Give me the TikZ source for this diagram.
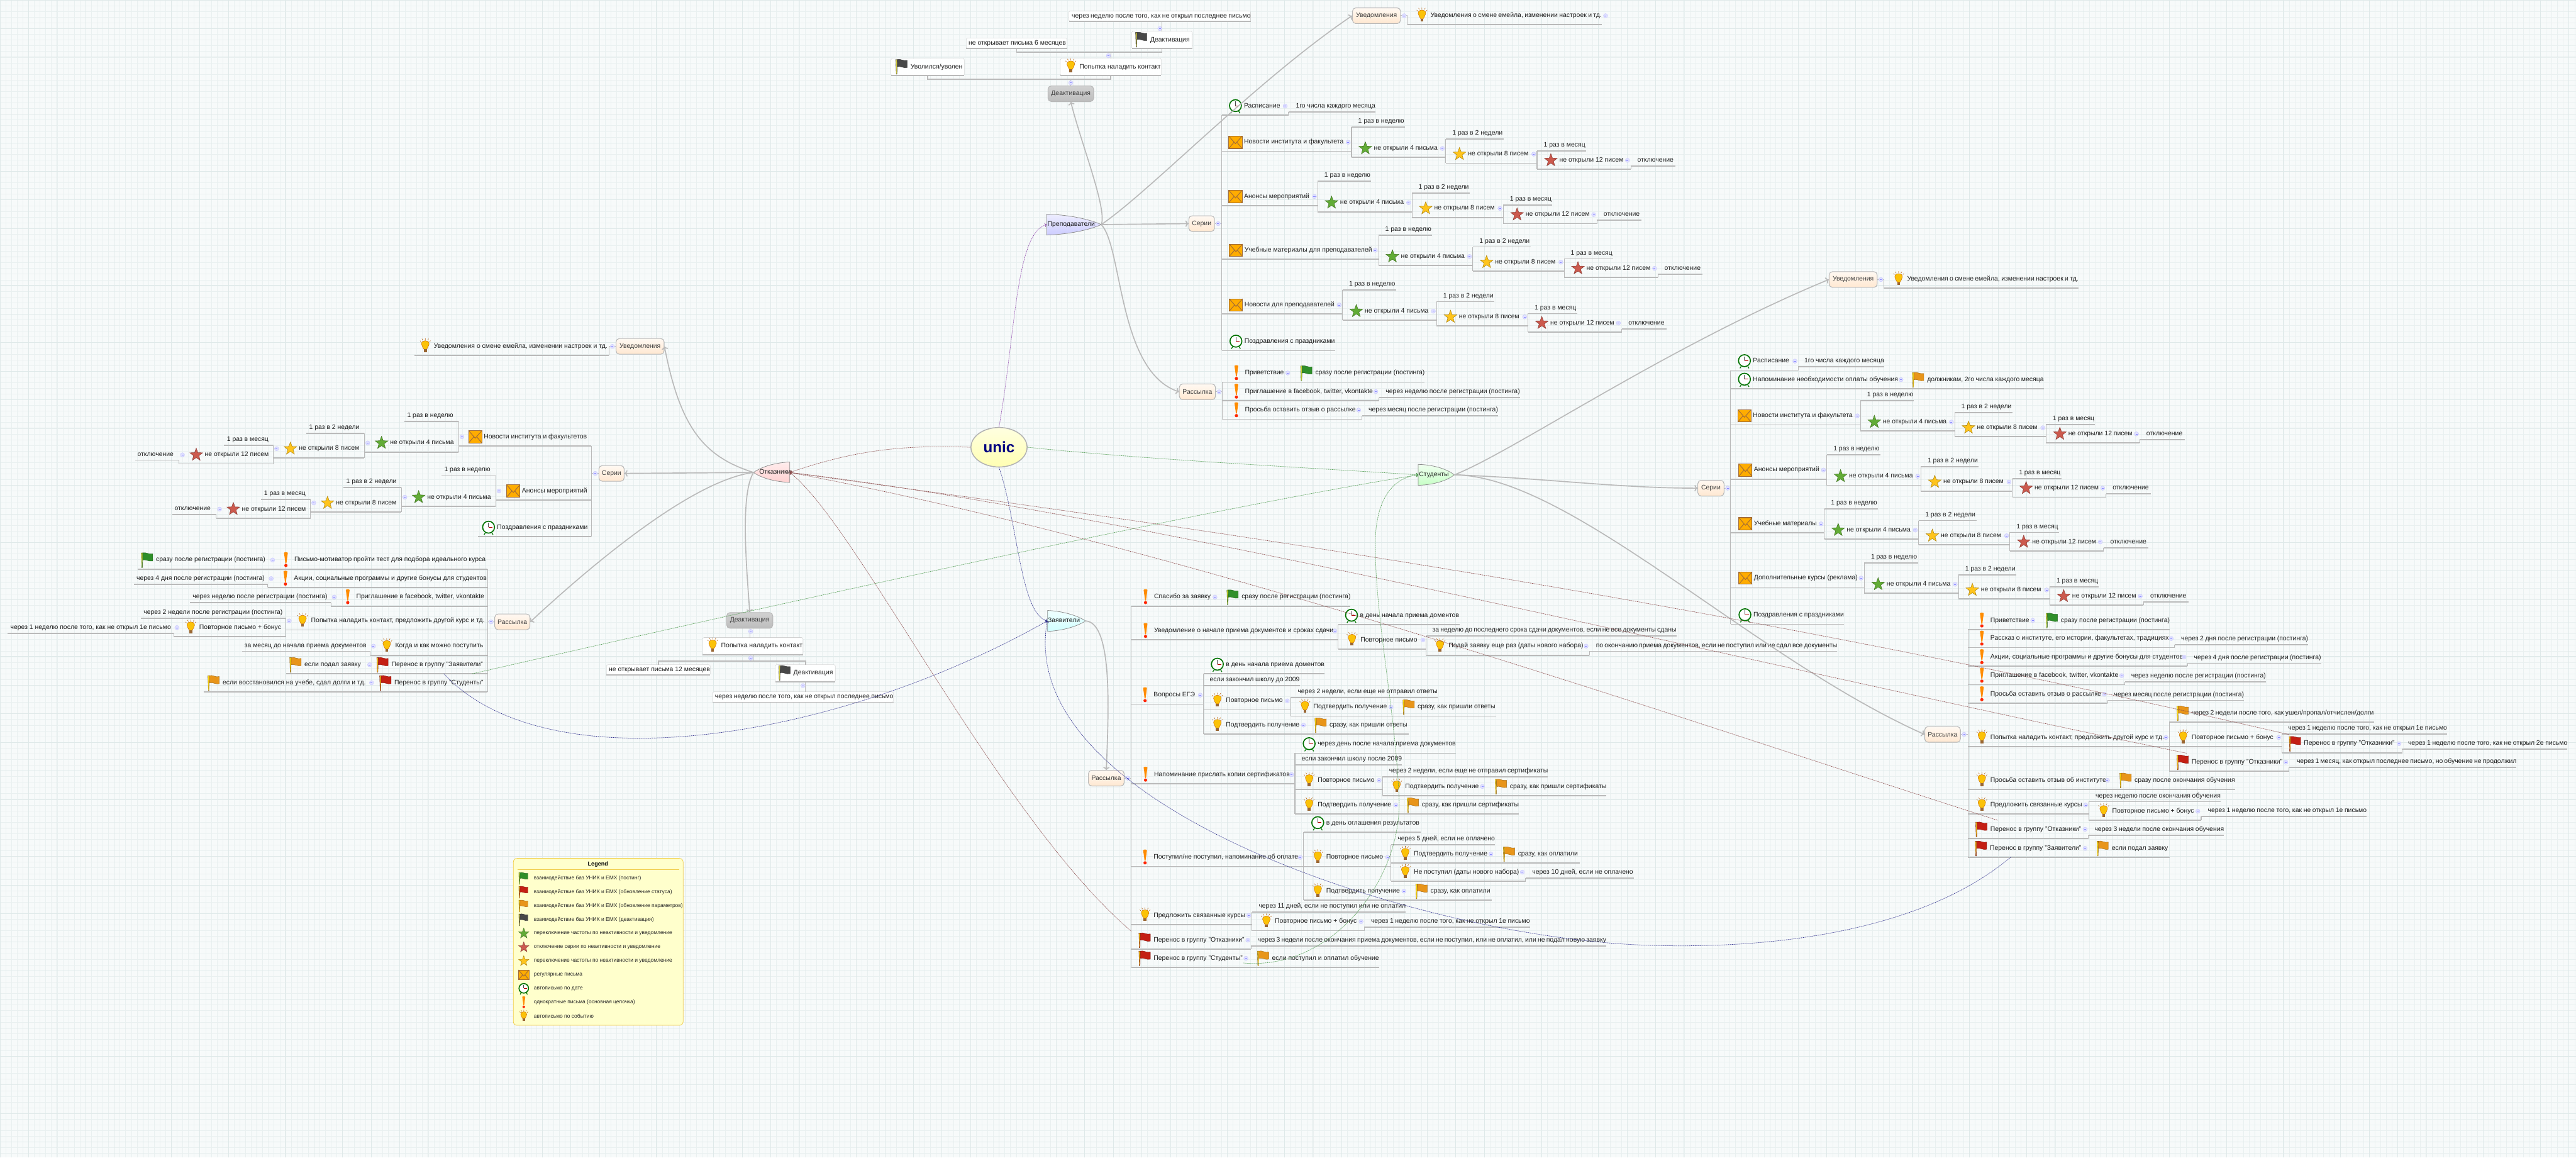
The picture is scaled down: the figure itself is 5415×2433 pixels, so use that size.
\documentclass[tikz,border=0pt]{standalone}
\usepackage{fontspec}
\setmainfont{Liberation Sans}
\usetikzlibrary{arrows.meta}
\usetikzlibrary{calc}
\usetikzlibrary{shapes.geometric}

\definecolor{bgc}{HTML}{F7FAFA}
\definecolor{gridc}{HTML}{E9F0F0}
\definecolor{gridm}{HTML}{DFE9E9}
\definecolor{linec}{HTML}{BABABA}
\definecolor{flagG}{HTML}{2F8F2A}
\definecolor{flagR}{HTML}{C41F14}
\definecolor{flagO}{HTML}{E8951A}
\definecolor{flagK}{HTML}{484848}
\definecolor{starG}{HTML}{62AC36}
\definecolor{starY}{HTML}{FFC41C}
\definecolor{starR}{HTML}{CC5A4E}
\definecolor{relO}{HTML}{8A4A4A}
\definecolor{relZ}{HTML}{2F2F8C}
\definecolor{relS}{HTML}{4E9A4E}
\definecolor{relP}{HTML}{8A40A8}
\definecolor{legbg}{HTML}{FFFFCC}
\definecolor{legbd}{HTML}{F0CC48}

\newcommand{\starshape}{(0,-14) -- (3.4,-4.7) -- (13.3,-4.3) -- (5.5,1.8) -- (8.2,11.3) -- (0,5.8) -- (-8.2,11.3) -- (-5.5,1.8) -- (-13.3,-4.3) -- (-3.4,-4.7) -- cycle}

\tikzset{
    ul/.style={draw=linec,line width=2.4pt},
    br/.style={draw=linec,line width=1.4pt},
    arm/.style={draw=linec,line width=2.2pt,->},
    rel/.style={line width=1pt,dash pattern=on 1pt off 1pt,->},
    lft/.style 2 args={inner sep=0pt,outer sep=0pt,text height=10pt,text depth=3pt,text=black!88,
        execute at begin node={\hbox to #1pt\bgroup\hspace*{#2pt}},
        execute at end node={\hfil\egroup}},
    tp/.style 2 args={lft={#1}{#2},anchor=south west,minimum height=24pt,
        append after command={\pgfextra{\xdef\tplast{\tikzlastnode}} (\tplast.south west) edge[ul] (\tplast.south east)}},
    tpi/.style n args={3}{tp={#1}{#2},minimum height=38pt,
        append after command={pic at ([xshift=#2pt-18pt,yshift=19pt]\tplast.south west) {#3}}},
    kid/.style={append after command={pic at ([xshift=-7pt,yshift=19pt]\tplast.south east) {mk}}},
    lkid/.style={append after command={pic at ([xshift=7pt,yshift=19pt]\tplast.south west) {mk}}},
    bx/.style={draw=black!25,fill=white!90!bgc,rounded corners=3pt},
    cap/.style={draw=black!28,line width=1.4pt,rounded corners=7pt,top color=orange!5,bottom color=orange!18,
        minimum width=#1pt,minimum height=33pt,inner sep=0pt,text=black!75},
    capd/.style={cap=#1,top color=black!18,bottom color=black!26},
    lbl/.style 2 args={lft={#1}{#2},minimum height=44pt},
    lobe/.style={draw=black!45,line width=1pt},
    lg/.style={anchor=west,inner sep=0pt,font=\fontsize{11.2}{13}\selectfont,text=black!85,
        append after command={pic[scale=0.8] at ([xshift=-21pt]\tikzlastnode.west) {#1}}},
    pics/mk/.style={code={
        \draw[draw=blue!22,fill=blue!12,line width=0.6pt] (0,0) circle (4.5);
        \draw[draw=blue!45,line width=0.6pt] (-2,0) -- (2,0);}},
    pics/flag/.style={code={
        \draw[draw=#1!70!black,fill=#1,line width=0.6pt] (-10,-15) .. controls (-3,-17) and (3,-11) .. (11,-13) -- (11,2) .. controls (3,4) and (-3,-2) .. (-10,0) -- cycle;
        \draw[draw=#1!60!black,fill=yellow!70!#1,line width=0.5pt] (-13,-15) -- (-10,-15) -- (-10.5,16) -- (-12,16) -- cycle;}},
    pics/star/.style={code={
        \draw[draw=#1!70!black,fill=#1,line width=0.8pt] \starshape;}},
    pics/bulb/.style={code={
        \draw[draw=orange!80!black,fill=yellow!55!orange,line width=0.6pt] (-3,6) .. controls (-4,2) and (-8,0) .. (-8,-5) .. controls (-8,-10) and (-4,-12) .. (0,-12) .. controls (4,-12) and (8,-10) .. (8,-5) .. controls (8,0) and (4,2) .. (3,6) -- cycle;
        \fill[brown!80!black] (-3,6) rectangle (3,12);
        \draw[orange!70!black,line width=0.7pt] (0,-13.5) -- (0,-17) (-5,-13) -- (-7,-16) (5,-13) -- (7,-16) (-9,-10) -- (-11,-12) (9,-10) -- (11,-12);}},
    pics/excl/.style={code={
        \fill[orange!90!yellow] (-4,-15) .. controls (-3,-17) and (3,-17) .. (4,-15) -- (1,7) -- (-1,7) -- cycle;
        \fill[red!70!orange] (0,11.5) circle (3.4);}},
    pics/clock/.style={code={
        \draw[draw=green!45!black,line width=2.2pt,fill=white] (0,-1) circle (12.5);
        \draw[draw=green!45!black,line width=1.6pt] (-7,11) -- (-9.5,15) (7,11) -- (9.5,15);
        \draw[red!70!black,line width=1pt] (0,-1) -- (8,-1);
        \draw[black!70,line width=1pt] (0,-1) -- (0,-10);}},
    pics/mail/.style={code={
        \draw[draw=brown!85!black,fill=orange!65!yellow,line width=1.4pt] (-14,-13) rectangle (14,13);
        \draw[draw=brown!85!black,line width=1.3pt] (-14,-13) -- (0,3) -- (14,-13) (-14,13) -- (-3,0) (14,13) -- (3,0);}},
}

\begin{document}
\begin{tikzpicture}[x=1pt,y=-1pt,font=\fontsize{13.8}{16}\selectfont,>=To]
    \path[use as bounding box] (0,0) rectangle (5415,2433);
    \fill[bgc] (0,0) rectangle (5415,2433);
    \draw[gridc,line width=0.6pt] (0,0) grid[xstep=12pt,ystep=12pt] (5415,2433);
    \draw[gridm,line width=1pt] (0,0) grid[xstep=60pt,ystep=60pt] (5415,2433);

    % centre and the four groups
    \node[draw=black!30,line width=2pt,ellipse,top color=yellow!12,bottom color=yellow!30,minimum width=118pt,minimum height=83pt,inner sep=0pt,font=\fontsize{32}{36}\selectfont\bfseries,text=blue!50!black] (UN) at (2100,940) {unic};
    \draw[lobe,top color=blue!7,bottom color=blue!20] (2200,450) .. controls (2260,452) and (2300,465) .. (2315,472) .. controls (2300,479) and (2260,492) .. (2200,494) -- cycle;
    \node[lbl={115}{2}] (PL) at (2257.5,472) {Преподаватели};
    \draw[lobe,top color=red!7,bottom color=red!18] (1660,971) .. controls (1620,973) and (1595,985) .. (1584,993) .. controls (1595,1001) and (1620,1012) .. (1660,1014) -- cycle;
    \node[lbl={76}{12}] (OT) at (1622,993) {Отказники};
    \draw[lobe,top color=cyan!6,bottom color=cyan!18] (2202,1283) .. controls (2242,1285) and (2270,1297) .. (2282,1305) .. controls (2270,1313) and (2242,1325) .. (2202,1327) -- cycle;
    \node[lbl={81}{1}] (ZA) at (2242,1305) {Заявители};
    \draw[lobe,top color=green!6,bottom color=green!22] (2981,976) .. controls (3018,977) and (3045,988) .. (3057,998) .. controls (3045,1008) and (3018,1019) .. (2981,1020) -- cycle;
    \node[lbl={76}{2}] (ST) at (3019,998) {Студенты};

    % Prepodavateli, deactivation
    \node[capd=96] (DP) at (2251,197) {Деактивация};
    \node[tpi={154}{41}{flag=flagK},bx,minimum height=36pt] (DP1) at (1873,159) {Уволился/уволен};
    \node[tpi={212}{40}{bulb},bx,minimum height=36pt] (DP2) at (2229,159) {Попытка наладить контакт};
    \node[tp={212}{5},bx,minimum height=22pt] (DP3) at (2031,102) {не открывает письма 6 месяцев};
    \node[tpi={127}{39}{flag=flagK},bx,minimum height=36pt] (DP4) at (2379,102) {Деактивация};
    \node[tp={382}{6},bx,minimum height=22pt] (DP5) at (2247,45) {через неделю после того, как не открыл последнее письмо};
    \coordinate (DP6) at (2251,167);
    \coordinate (DP7) at (2335,110);
    \draw[ul] (DP1.south) |- (DP6) -| (DP2.south);
    \draw[br] (DP.north) -- (DP6);
    \draw[ul] (DP3.south) |- (DP7) -| (DP4.south);
    \draw[br] (DP2.north) -- (DP7);
    \draw[br] (DP4.north) -- (DP4.north |- DP5.south);
    \pic at (2251,174) {mk};
    \pic at (2330,117) {mk};
    \pic at (2438,60) {mk};

    % Prepodavateli, notices
    \node[cap=101] (PU) at (2893.5,33) {Уведомления};
    \node[tpi={409}{49}{bulb}] (PU1) at (2958,52) {Уведомления о смене емейла, изменении настроек и тд.};
    \draw[br] (PU.east) -| (PU1.south west);
    \pic at ([xshift=7pt]PU.east) {mk};
    \pic at ([xshift=8pt,yshift=19pt]PU1.south east) {mk};

    % Prepodavateli, series
    \node[cap=54] (PS) at (2526,470) {Серии};
    \node[tpi={140.5}{47}{clock},kid] (PS1) at (2568,242) {Расписание};
    \node[tp={182.5}{15.5}] (PS2) at (2708.5,235) {1го числа каждого месяца};
    \node[tpi={273}{47}{mail},kid] (PS3) at (2568,318) {Новости института и факультета};
    \node[tpi={202}{47}{mail},kid] (PS4) at (2568,432) {Анонсы мероприятий};
    \node[tpi={330}{48}{mail},kid] (PS5) at (2568,545) {Учебные материалы для преподавателей};
    \node[tpi={254}{48}{mail},kid] (PS6) at (2568,660) {Новости для преподавателей};
    \node[tpi={238}{48}{clock}] (PS7) at (2568,737) {Поздравления с праздниками};
    \draw[br] (PS1.south west) -- (PS7.south west);
    \draw[br] (PS1.south east) -- (PS2.south west);
    \draw[br] (PS.east) -- (PS.east -| PS1.south west);
    \pic at ([xshift=7pt]PS.east) {mk};

    % Prepodavateli, mailing
    \node[cap=76] (PR) at (2517,823.5) {Рассылка};
    \node[tpi={145}{48}{excl},kid] (PR1) at (2569,803) {Приветствие};
    \node[tpi={281}{51}{flag=flagG}] (PR2) at (2714,803) {сразу после регистрации (постинга)};
    \node[tpi={330}{48}{excl},kid] (PR3) at (2569,842) {Приглашение в facebook, twitter, vkontakte};
    \node[tp={296}{14}] (PR4) at (2899,835) {через неделю после регистрации (постинга)};
    \node[tpi={294}{48}{excl},kid] (PR5) at (2569,881) {Просьба оставить отзыв о рассылке};
    \node[tp={286}{14}] (PR6) at (2863,874) {через месяц после регистрации (постинга)};
    \draw[br] (PR1.south west) -- (PR5.south west);
    \draw[br] (PR3.south east) -- (PR4.south west);
    \draw[br] (PR5.south east) -- (PR6.south west);
    \draw[br] (PR.east) -- (PR.east -| PR1.south west);
    \pic at ([xshift=7pt]PR.east) {mk};

    % Studenty, notices and series
    \node[cap=101] (SU) at (3895.5,587.5) {Уведомления};
    \node[tpi={409}{49}{bulb}] (SU1) at (3960,606) {Уведомления о смене емейла, изменении настроек и тд.};
    \draw[br] (SU.east) -| (SU1.south west);
    \pic at ([xshift=7pt]SU.east) {mk};
    \node[cap=55] (SS) at (3596.5,1026) {Серии};
    \node[tpi={142}{47}{clock},kid] (SS1) at (3638,778) {Расписание};
    \node[tp={181}{13}] (SS2) at (3780,770.5) {1го числа каждого месяца};
    \node[tpi={365}{47}{clock},kid] (SS3) at (3638,817) {Напоминание необходимости оплаты обучения};
    \node[tpi={293}{48}{flag=flagO}] (SS4) at (4003,817) {должникам, 2го числа каждого месяца};
    \node[tpi={273}{47}{mail},kid] (SS5) at (3638,893) {Новости института и факультета};
    \node[tpi={202}{49}{mail},kid] (SS6) at (3638,1007) {Анонсы мероприятий};
    \node[tpi={197}{49}{mail},kid] (SS7) at (3638,1120) {Учебные материалы};
    \node[tpi={281}{49}{mail},kid] (SS8) at (3638,1234) {Дополнительные курсы (реклама)};
    \node[tpi={238}{48}{clock}] (SS9) at (3638,1312) {Поздравления с праздниками};
    \draw[br] (SS1.south west) -- (SS9.south west);
    \draw[br] (SS1.south east) -- (SS2.south west);
    \draw[br] (SS.east) -- (SS.east -| SS1.south west);
    \pic at ([xshift=7pt]SS.east) {mk};

    % Studenty, mailing
    \node[cap=75] (SR) at (4083.5,1543.5) {Рассылка};
    \node[tpi={143}{47}{excl},kid] (SR1) at (4137,1323) {Приветствие};
    \node[tpi={281}{52}{flag=flagG}] (SR2) at (4280,1323) {сразу после регистрации (постинга)};
    \node[tpi={434}{47}{excl},kid] (SR3) at (4137,1361) {Рассказ о институте, его истории, факультетах, традициях};
    \node[tp={281}{14}] (SR4) at (4571,1355) {через 2 дня после регистрации (постинга)};
    \node[tpi={461}{47}{excl},kid] (SR5) at (4137,1400) {Акции, социальные программы и другие бонусы для студентов};
    \node[tp={281}{14}] (SR6) at (4598,1394) {через 4 дня после регистрации (постинга)};
    \node[tpi={330}{47}{excl},kid] (SR7) at (4137,1439) {Приглашение в facebook, twitter, vkontakte};
    \node[tp={296}{13}] (SR8) at (4467,1433) {через неделю после регистрации (постинга)};
    \node[tpi={293.5}{47}{excl},kid] (SR9) at (4137,1478) {Просьба оставить отзыв о рассылке};
    \node[tp={286.5}{13.5}] (SR10) at (4430.5,1472) {через месяц после регистрации (постинга)};
    \node[tpi={423}{47}{bulb},kid] (SR11) at (4137,1569) {Попытка наладить контакт, предложить другой курс и тд.};
    \node[tpi={430}{47}{flag=flagO}] (SR12) at (4560,1518) {через 2 недели после того, как ушел/пропал/отчислен/долги};
    \node[tpi={237}{47}{bulb},kid] (SR13) at (4560,1569) {Повторное письмо + бонус};
    \node[tp={347}{13}] (SR14) at (4797,1543) {через 1 неделю после того, как не открыл 1е письмо};
    \node[tpi={253}{46}{flag=flagR},kid] (SR15) at (4797,1582) {Перенос в группу "Отказники"};
    \node[tp={347}{12}] (SR16) at (5050,1575) {через 1 неделю после того, как не открыл 2е письмо};
    \node[tpi={252}{47}{flag=flagR},kid] (SR17) at (4560,1621) {Перенос в группу "Отказники"};
    \node[tp={478}{16}] (SR18) at (4812,1613) {через 1 месяц, как открыл последнее письмо, но обучение не продолжил};
    \node[tpi={300}{47}{bulb},kid] (SR19) at (4137,1659) {Просьба оставить отзыв об институте};
    \node[tpi={261}{50}{flag=flagO}] (SR20) at (4437,1659) {сразу после окончания обучения};
    \node[tpi={254}{47}{bulb},kid] (SR21) at (4137,1711) {Предложить связанные курсы};
    \node[tp={277}{14}] (SR22) at (4391,1685) {через неделю после окончания обучения};
    \node[tpi={236}{49}{bulb},kid] (SR23) at (4391,1724) {Повторное письмо + бонус};
    \node[tp={348}{14}] (SR24) at (4627,1716) {через 1 неделю после того, как не открыл 1е письмо};
    \node[tpi={253}{47}{flag=flagR},kid] (SR25) at (4137,1762) {Перенос в группу "Отказники"};
    \node[tp={285}{13}] (SR26) at (4390,1756) {через 3 недели после окончания обучения};
    \node[tpi={253}{46}{flag=flagR},kid] (SR27) at (4137,1802) {Перенос в группу "Заявители"};
    \node[tpi={171}{49}{flag=flagO}] (SR28) at (4390,1802) {если подал заявку};
    \draw[br] (SR1.south west) -- (SR27.south west);
    \draw[br] (SR3.south east) -- (SR4.south west);
    \draw[br] (SR5.south east) -- (SR6.south west);
    \draw[br] (SR7.south east) -- (SR8.south west);
    \draw[br] (SR9.south east) -- (SR10.south west);
    \draw[br] (SR12.south west) -- (SR17.south west);
    \draw[br] (SR14.south west) -- (SR15.south west);
    \draw[br] (SR15.south east) -- (SR16.south west);
    \draw[br] (SR17.south east) -- (SR18.south west);
    \draw[br] (SR22.south west) -- (SR23.south west);
    \draw[br] (SR23.south east) -- (SR24.south west);
    \draw[br] (SR25.south east) -- (SR26.south west);
    \draw[br] (SR.east) -- (SR.east -| SR1.south west);
    \pic at ([xshift=7pt]SR.east) {mk};

    % frequency chains, going right
    \foreach \k/\xa/\ya in {PA/2841/318,PB/2770/432,PC/2898/545,PD/2822/660,SA/3911/893,SB/3840/1007,SC/3835/1120,SD/3919/1234} {
        \node[tp={112.5}{14}] (\k1) at (\xa,\ya-51) {1 раз в неделю};
        \node[tpi={198}{47}{star=starG},kid] (\k2) at (\xa,\ya+13) {не открыли 4 письма};
        \node[tp={121.5}{14}] (\k3) at (\xa+198,\ya-26) {1 раз в 2 недели};
        \node[tpi={192}{47}{star=starY},kid] (\k4) at (\xa+198,\ya+25) {не открыли 8 писем};
        \node[tp={103}{14}] (\k5) at (\xa+390,\ya-1) {1 раз в месяц};
        \node[tpi={197}{47}{star=starR},kid] (\k6) at (\xa+390,\ya+38) {не открыли 12 писем};
        \node[tp={94}{14}] (\k7) at (\xa+587,\ya+31) {отключение};
        \draw[br] (\k1.south west) -- (\k2.south west);
        \draw[br] (\k3.south west) -- (\k4.south west);
        \draw[br] (\k5.south west) -- (\k6.south west);
        \draw[br] (\k6.south east) -- (\k7.south west);
    }

    % frequency chains, going left
    \foreach \k/\xa/\ya in {OA/964/937,OB/1042/1051} {
        \node[tp={114}{6}] (\k1) at (\xa-114,\ya-51) {1 раз в неделю};
        \node[tpi={198}{54}{star=starG},lkid] (\k2) at (\xa-198,\ya+13) {не открыли 4 письма};
        \node[tp={122}{6}] (\k3) at (\xa-320,\ya-26) {1 раз в 2 недели};
        \node[tpi={191.5}{54}{star=starY},lkid] (\k4) at (\xa-389.5,\ya+25) {не открыли 8 писем};
        \node[tp={103.5}{6}] (\k5) at (\xa-493,\ya-1) {1 раз в месяц};
        \node[tpi={198}{54}{star=starR},lkid] (\k6) at (\xa-587.5,\ya+38) {не открыли 12 писем};
        \node[tp={92.5}{5}] (\k7) at (\xa-680,\ya+30) {отключение};
        \draw[br] (\k1.south east) -- (\k2.south east);
        \draw[br] (\k3.south east) -- (\k4.south east);
        \draw[br] (\k5.south east) -- (\k6.south east);
        \draw[br] (\k6.south west) -- (\k7.south east);
    }

    % Zayaviteli, mailing
    \node[cap=75] (ZR) at (2325.5,1635.5) {Рассылка};
    \node[tpi={183}{48}{excl},kid] (Z1) at (2378,1274) {Спасибо за заявку};
    \node[tpi={278}{49}{flag=flagG}] (Z2) at (2561,1274) {сразу после регистрации (постинга)};
    \node[tpi={435}{48}{excl},kid] (Z3) at (2378,1345) {Уведомление о начале приема документов и сроках сдачи};
    \node[tpi={255}{46}{clock}] (Z4) at (2813,1313) {в день начала приема доментов};
    \node[tpi={185}{47}{bulb},kid] (Z5) at (2813,1364) {Повторное письмо};
    \node[tp={526}{13}] (Z6) at (2998,1337) {за неделю до последнего срока сдачи документов, если не все документы сданы};
    \node[tpi={343}{47}{bulb},kid] (Z7) at (2998,1377) {Подай заявку еще раз (даты нового набора)};
    \node[tp={521}{14}] (Z8) at (3341,1369) {по окончанию приема документов, если не поступил или не сдал все документы};
    \node[tpi={152}{47}{excl},kid] (Z9) at (2378,1480) {Вопросы ЕГЭ};
    \node[tpi={254}{47}{clock}] (Z10) at (2530,1416) {в день начала приема доментов};
    \node[tp={202}{13}] (Z11) at (2530,1441) {если закончил школу до 2009};
    \node[tpi={183}{47}{bulb},kid] (Z12) at (2530,1492) {Повторное письмо};
    \node[tp={309}{15}] (Z13) at (2713,1466) {через 2 недели, если еще не отправил ответы};
    \node[tpi={218}{48}{bulb},kid] (Z14) at (2713,1505) {Подтвердить получение};
    \node[tpi={214}{49}{flag=flagO}] (Z15) at (2931,1505) {сразу, как пришли ответы};
    \node[tpi={217}{47}{bulb},kid] (Z16) at (2530,1543) {Подтвердить получение};
    \node[tpi={214}{48}{flag=flagO}] (Z17) at (2747,1543) {сразу, как пришли ответы};
    \node[tpi={344}{48}{excl},kid] (Z18) at (2378,1647) {Напоминание прислать копии сертификатов};
    \node[tpi={338}{48}{clock}] (Z19) at (2722,1583) {через день после начала приема документов};
    \node[tp={225}{14}] (Z20) at (2722,1608) {если закончил школу после 2009};
    \node[tpi={184}{48}{bulb},kid] (Z21) at (2722,1659) {Повторное письмо};
    \node[tp={348}{14}] (Z22) at (2906,1633) {через 2 недели, если еще не отправил сертификаты};
    \node[tpi={217}{48}{bulb},kid] (Z23) at (2906,1672) {Подтвердить получение};
    \node[tpi={254}{51}{flag=flagO}] (Z24) at (3123,1672) {сразу, как пришли сертификаты};
    \node[tpi={219}{48}{bulb},kid] (Z25) at (2722,1711) {Подтвердить получение};
    \node[tpi={252}{48}{flag=flagO}] (Z26) at (2941,1711) {сразу, как пришли сертификаты};
    \node[tpi={362}{47}{excl},kid] (Z27) at (2378,1821) {Поступил/не поступил, напоминание об оплате};
    \node[tpi={246}{48}{clock}] (Z28) at (2740,1749) {в день оглашения результатов};
    \node[tpi={184}{48}{bulb},kid] (Z29) at (2740,1821) {Повторное письмо};
    \node[tp={219}{14}] (Z30) at (2924,1775) {через 5 дней, если не оплачено};
    \node[tpi={217}{48}{bulb},kid] (Z31) at (2924,1814) {Подтвердить получение};
    \node[tpi={180}{50}{flag=flagO}] (Z32) at (3141,1814) {сразу, как оплатили};
    \node[tpi={283}{48}{bulb},kid] (Z33) at (2924,1852) {Не поступил (даты нового набора)};
    \node[tp={227}{14}] (Z34) at (3207,1846) {через 10 дней, если не оплачено};
    \node[tpi={218}{48}{bulb},kid] (Z35) at (2740,1892) {Подтвердить получение};
    \node[tpi={178}{49}{flag=flagO}] (Z36) at (2958,1892) {сразу, как оплатили};
    \node[tpi={254}{47}{bulb},kid] (Z37) at (2378,1943) {Предложить связанные курсы};
    \node[tp={323}{14}] (Z38) at (2632,1917) {через 11 дней, если не поступил или не оплатил};
    \node[tpi={236}{48}{bulb},kid] (Z39) at (2632,1956) {Повторное письмо + бонус};
    \node[tp={348}{14}] (Z40) at (2868,1949) {через 1 неделю после того, как не открыл 1е письмо};
    \node[tpi={252}{47}{flag=flagR},kid] (Z41) at (2378,1995) {Перенос в группу "Отказники"};
    \node[tp={746.5}{14}] (Z42) at (2630,1988) {через 3 недели после окончания приема документов, если не поступил, или не оплатил, или не подал новую заявку};
    \node[tpi={248}{47}{flag=flagR},kid] (Z43) at (2378,2033) {Перенос в группу "Студенты"};
    \node[tpi={273}{48}{flag=flagO}] (Z44) at (2626,2033) {если поступил и оплатил обучение};
    \draw[br] (Z1.south west) -- (Z43.south west);
    \draw[br] (Z4.south west) -- (Z5.south west);
    \draw[br] (Z6.south west) -- (Z7.south west);
    \draw[br] (Z7.south east) -- (Z8.south west);
    \draw[br] (Z10.south west) -- (Z16.south west);
    \draw[br] (Z13.south west) -- (Z14.south west);
    \draw[br] (Z19.south west) -- (Z25.south west);
    \draw[br] (Z22.south west) -- (Z23.south west);
    \draw[br] (Z28.south west) -- (Z35.south west);
    \draw[br] (Z30.south west) -- (Z33.south west);
    \draw[br] (Z33.south east) -- (Z34.south west);
    \draw[br] (Z38.south west) -- (Z39.south west);
    \draw[br] (Z39.south east) -- (Z40.south west);
    \draw[br] (Z41.south east) -- (Z42.south west);
    \draw[br] (ZR.east) -- (ZR.east -| Z1.south west);
    \pic at ([xshift=7pt]ZR.east) {mk};

    % Otkazniki, notices and series
    \node[cap=101] (OU) at (1345.5,728) {Уведомления};
    \node[tpi={409}{41}{bulb}] (OU1) at (871,747) {Уведомления о смене емейла, изменении настроек и тд.};
    \draw[br] (OU.west) -| (OU1.south east);
    \pic at ([xshift=-7pt]OU.west) {mk};
    \node[cap=53] (OS) at (1285.5,995) {Серии};
    \node[tpi={279}{53}{mail},lkid] (OS1) at (964,937) {Новости института и факультетов};
    \node[tpi={201}{55}{mail},lkid] (OS2) at (1042,1051) {Анонсы мероприятий};
    \node[tpi={238}{40}{clock}] (OS3) at (1005,1128) {Поздравления с праздниками};
    \draw[br] (OS1.south east) -- (OS3.south east);
    \draw[br] (OS.west) -- (OS.west -| OS1.south east);
    \pic at ([xshift=-7pt]OS.west) {mk};

    % Otkazniki, mailing
    \node[cap=74] (OR) at (1077,1307) {Рассылка};
    \node[tpi={459}{53}{excl},lkid] (OR1) at (566,1196) {Письмо-мотиватор пройти тест для подбора идеального курса};
    \node[tpi={276}{38}{flag=flagG}] (OR2) at (290,1196) {сразу после регистрации (постинга)};
    \node[tpi={462}{55}{excl},lkid] (OR3) at (563,1235) {Акции, социальные программы и другие бонусы для студентов};
    \node[tp={281}{5}] (OR4) at (282,1228) {через 4 дня после регистрации (постинга)};
    \node[tpi={329.5}{53.5}{excl},lkid] (OR5) at (695.5,1274) {Приглашение в facebook, twitter, vkontakte};
    \node[tp={296.5}{6}] (OR6) at (399,1267) {через неделю после регистрации (постинга)};
    \node[tpi={424}{53}{bulb},lkid] (OR7) at (601,1324) {Попытка наладить контакт, предложить другой курс и тд.};
    \node[tp={305}{6}] (OR8) at (296,1299) {через 2 недели после регистрации (постинга)};
    \node[tpi={236}{54}{bulb},lkid] (OR9) at (365,1338) {Повторное письмо + бонус};
    \node[tp={349}{6}] (OR10) at (16,1331) {через 1 неделю после того, как не открыл 1е письмо};
    \node[tpi={247}{53}{bulb},lkid] (OR11) at (778,1377) {Когда и как можно поступить};
    \node[tp={269}{5}] (OR12) at (509,1369) {за месяц до начала приема документов};
    \node[tpi={255}{53}{flag=flagR},lkid] (OR13) at (770,1416) {Перенос в группу "Заявители"};
    \node[tpi={169}{39}{flag=flagO}] (OR14) at (601,1416) {если подал заявку};
    \node[tpi={251}{55}{flag=flagR},lkid] (OR15) at (774,1454) {Перенос в группу "Студенты"};
    \node[tpi={346}{40}{flag=flagO}] (OR16) at (428,1454) {если восстановился на учебе, сдал долги и тд.};
    \draw[br] (OR1.south east) -- (OR15.south east);
    \draw[br] (OR3.south west) -- (OR4.south east);
    \draw[br] (OR5.south west) -- (OR6.south east);
    \draw[br] (OR8.south east) -- (OR9.south east);
    \draw[br] (OR9.south west) -- (OR10.south east);
    \draw[br] (OR11.south west) -- (OR12.south east);
    \draw[br] (OR.west) -- (OR.west -| OR1.south east);
    \pic at ([xshift=-7pt]OR.west) {mk};

    % Otkazniki, deactivation
    \node[capd=97] (DO) at (1576,1304) {Деактивация};
    \node[tpi={211}{39}{bulb},bx,minimum height=36pt] (DO1) at (1477,1376) {Попытка наладить контакт};
    \node[tp={218}{5},bx,minimum height=22pt] (DO2) at (1275,1419) {не открывает письма 12 месяцев};
    \node[tpi={126}{38}{flag=flagK},bx,minimum height=36pt] (DO3) at (1630,1433) {Деактивация};
    \node[tp={380}{5},bx,minimum height=22pt] (DO4) at (1498,1476) {через неделю после того, как не открыл последнее письмо};
    \coordinate (DO5) at (1582.5,1389);
    \draw[ul] (DO2.north) |- (DO5) -| (DO3.north);
    \draw[br] (DO1.south) -- (DO5);
    \draw[br] (DO.south) -- (DO.south |- DO1.north);
    \draw[br] (DO3.south) -- (DO3.south |- DO4.north);
    \pic at (1578,1327) {mk};
    \pic at (1578,1383) {mk};
    \pic at (1688,1441) {mk};

    % thick arms
    \draw[arm] (PL.east) .. controls (2328,440) and (2272,300) .. (DP.south);
    \draw[arm] (PL.east) .. controls (2420,400) and (2640,170) .. (PU.west);
    \draw[arm] (PL.east) -- (PS.west);
    \draw[arm] (PL.east) .. controls (2360,520) and (2350,780) .. (PR.west);
    \draw[arm] (ST.east) .. controls (3180,950) and (3500,730) .. (SU.west);
    \draw[arm] (ST.east) .. controls (3250,1005) and (3400,1026) .. (SS.west);
    \draw[arm] (ST.east) .. controls (3300,1000) and (3680,1380) .. (SR.west);
    \draw[arm] (OT.west) .. controls (1480,960) and (1430,900) .. (OU.east);
    \draw[arm] (OT.west) -- (OS.east);
    \draw[arm] (OT.west) .. controls (1450,1010) and (1230,1200) .. (OR.east);
    \draw[arm] (OT.west) .. controls (1555,1040) and (1570,1200) .. (DO.north);
    \draw[arm] (ZA.east) .. controls (2340,1310) and (2330,1500) .. (ZR.north);

    % relation lines
    \draw[rel,relP] (UN.north) .. controls (2135,700) and (2135,490) .. (PL.west);
    \draw[rel,relO] (UN.west) .. controls (1900,935) and (1800,945) .. (OT.east);
    \draw[rel,relS] (UN.east) .. controls (2400,965) and (2700,980) .. (ST.west);
    \draw[rel,relZ] (UN.south) .. controls (2140,1100) and (2145,1290) .. (ZA.west);
    \draw[rel,relO] (Z41.north west) .. controls (2100,1720) and (1800,1100) .. (OT.east);
    \draw[rel,relO] ([xshift=36pt]SR17.north west) .. controls (3700,1400) and (2400,1080) .. (OT.east);
    \draw[rel,relO] ([xshift=15pt]SR15.north west) .. controls (3500,1240) and (2400,1095) .. (OT.east);
    \draw[rel,relO] ([xshift=62pt]SR25.north west) .. controls (3500,1500) and (2500,1150) .. (OT.east);
    \draw[rel,relZ] ([xshift=163pt]OR13.south west) .. controls (1150,1650) and (1750,1560) .. (ZA.west);
    \draw[rel,relZ] ([xshift=89pt]SR27.south west) .. controls (4050,1950) and (3750,1995) .. (3474,1987) .. controls (3000,1975) and (2130,1700) .. (ZA.west);
    \draw[rel,relS] ([xshift=219pt]OR15.north west) .. controls (1500,1300) and (2500,1075) .. (ST.west);
    \draw[rel,relS] ([xshift=-12pt,yshift=9pt]Z43.south east) .. controls (2800,2040) and (2945,1850) .. (2941,1683) .. controls (2935,1500) and (2890,1300) .. (2891,1140) .. controls (2892,1060) and (2920,1005) .. (ST.west);

    % legend
    \node[draw=legbd,fill=legbg,line width=1pt,rounded corners=8pt,minimum width=357pt,minimum height=351pt] (LG) at (1257.5,1979.5) {};
    \node[font=\fontsize{12}{14}\selectfont\bfseries] (LT) at (1257,1817) {Legend};
    \draw[legbd,line width=0.8pt] ([xshift=9pt,yshift=-24pt]LG.north west) -- ([xshift=-9pt,yshift=-24pt]LG.north east);
    \node[lg={flag=flagG}] (L1) at (1122,1846) {взаимодействие баз УНИК и ЕМХ (постинг)};
    \node[lg={flag=flagR}] (L2) at (1122,1875) {взаимодействие баз УНИК и ЕМХ (обновление статуса)};
    \node[lg={flag=flagO}] (L3) at (1122,1904) {взаимодействие баз УНИК и ЕМХ (обновление параметров)};
    \node[lg={flag=flagK}] (L4) at (1122,1933) {взаимодействие баз УНИК и ЕМХ (деактивация)};
    \node[lg={star=starG}] (L5) at (1122,1962) {переключение частоты по неактивности и уведомление};
    \node[lg={star=starR}] (L6) at (1122,1991) {отключение серии по неактивности и уведомление};
    \node[lg={star=starY}] (L7) at (1122,2020) {переключение частоты по неактивности и уведомление};
    \node[lg={mail}] (L8) at (1122,2049) {регулярные письма};
    \node[lg={clock}] (L9) at (1122,2078) {автописьмо по дате};
    \node[lg={excl}] (L10) at (1122,2107) {однократные письма (основная цепочка)};
    \node[lg={bulb}] (L11) at (1122,2136) {автописьмо по событию};
\end{tikzpicture}
\end{document}
